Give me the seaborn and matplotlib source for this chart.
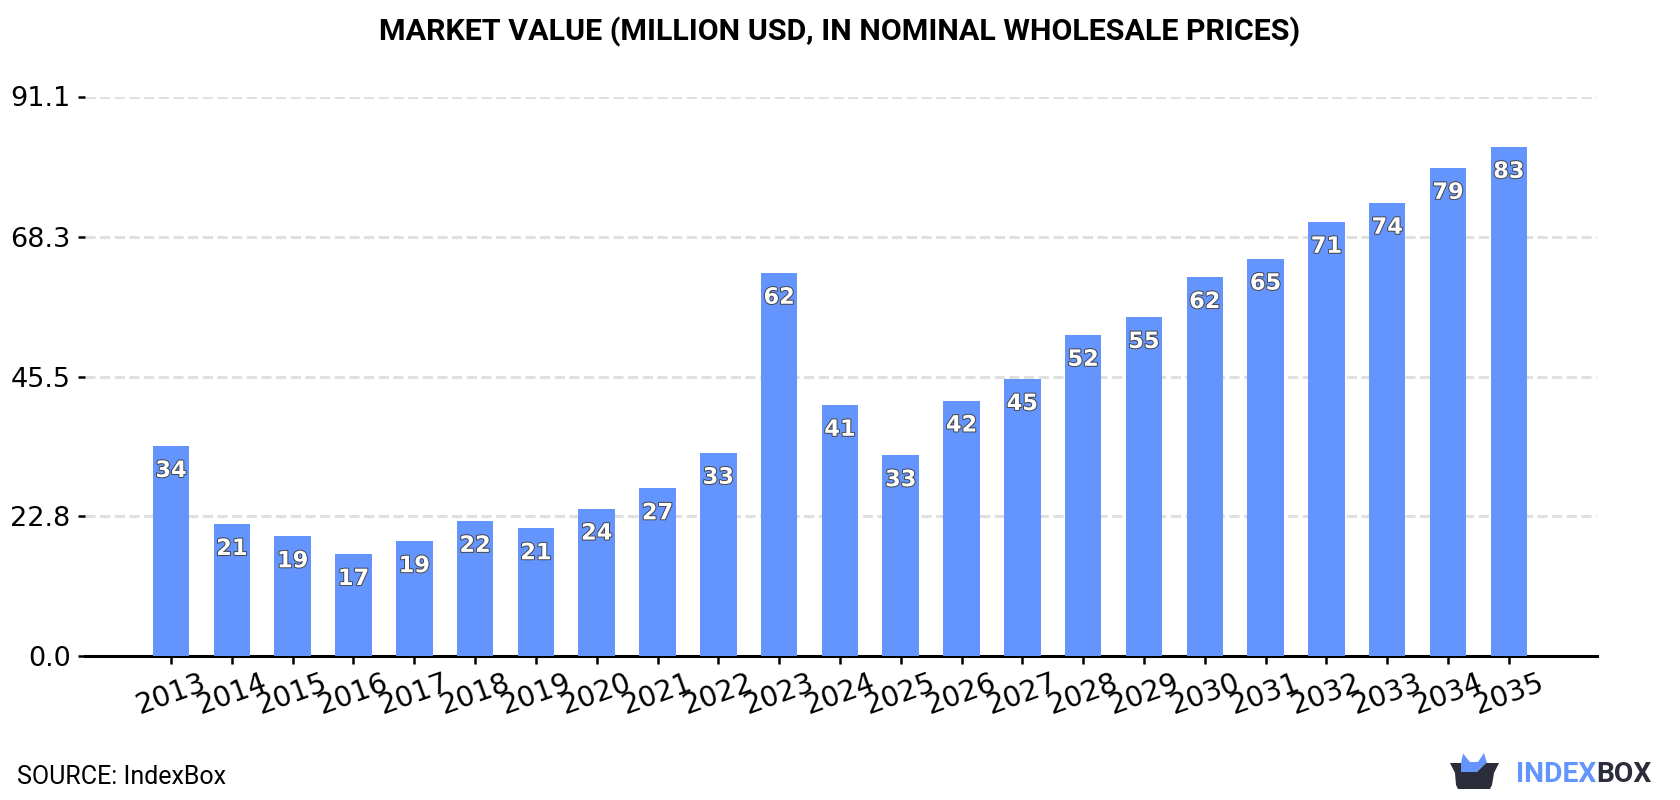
import matplotlib
matplotlib.use("Agg")
import matplotlib.pyplot as plt
import matplotlib.patheffects as pe
from matplotlib.patches import Polygon
import pandas as pd
import seaborn as sns

years = [2013, 2014, 2015, 2016, 2017, 2018, 2019, 2020, 2021, 2022, 2023, 2024,
         2025, 2026, 2027, 2028, 2029, 2030, 2031, 2032, 2033, 2034, 2035]
values = [34.2, 21.49, 19.49, 16.6, 18.7, 22.0, 20.8, 24.0, 27.3, 33.1, 62.4, 40.9,
          32.7, 41.6, 45.1, 52.3, 55.2, 61.7, 64.7, 70.7, 73.8, 79.49, 82.9]
y_ticks = [0.0, 22.8, 45.5, 68.3, 91.1]
title = "MARKET VALUE (MILLION USD, IN NOMINAL WHOLESALE PRICES)"
source = "SOURCE: IndexBox"

BLUE = "#6495ff"
DARK = "#2b2d3a"
W, H = 1680, 800

sns.set_theme(style="white")
fig = plt.figure(figsize=(W / 100, H / 100), dpi=100, facecolor="white")
ax = fig.add_axes([84.5 / W, 1 - 656 / H, (1597 - 84.5) / W, (656 - 96.5) / H])

frame = pd.DataFrame({"year": years, "value": values})
sns.barplot(data=frame, x="year", y="value", color=BLUE, saturation=1, width=0.6,
            linewidth=0, edgecolor="none", ax=ax, zorder=3)

ax.set_xlim(-1.423, 23.45)
ax.set_ylim(0, 91.1)
ax.set_yticks(y_ticks)
ax.set_yticklabels([f"{t:.1f}" for t in y_ticks])
ax.set_xlabel("")
ax.set_ylabel("")
ax.yaxis.grid(True, color="#e0e0e0", linestyle=(0, (3.3, 1.5)), linewidth=2.2, zorder=0)
ax.xaxis.grid(False)
sns.despine(ax=ax, left=True, top=True, right=True)
ax.spines["bottom"].set_linewidth(2.2)
ax.spines["bottom"].set_color("black")
# The baseline runs out under the tick of the zero label
ax.plot([-0.005, 0], [0, 0], transform=ax.get_xaxis_transform(), color="black",
        linewidth=2.2, clip_on=False, solid_capstyle="butt", zorder=6)
ax.tick_params(axis="y", left=True, length=5.4, width=1.8, color="black", pad=4.5,
               labelsize=19.5, labelcolor="black")
ax.tick_params(axis="x", bottom=True, length=5.4, width=1.8, color="black", pad=3.5,
               labelsize=20.5, labelcolor="black", labelrotation=20)
for lab in ax.get_xticklabels() + ax.get_yticklabels():
    lab.set_family("DejaVu Sans")

# Value labels sit just inside the top of each bar
for i, v in enumerate(values):
    ax.annotate(f"{v:.0f}", xy=(i, v), xytext=(0, -18), textcoords="offset points",
                ha="center", va="center", fontsize=16.2, fontweight="bold", color="white",
                family="DejaVu Sans", zorder=5,
                path_effects=[pe.withStroke(linewidth=1.4, foreground="#444444")])

fig.text(0.5 * (378 + 1302) / W, 1 - 32 / H, title, ha="center", va="center",
         fontsize=21.9, fontweight="bold", family="Roboto", color="black")
fig.text(17 / W, 1 - 776.5 / H, source, ha="left", va="center", fontsize=18,
         family="Roboto", color="black")

# Logo: open box with a blue crown, followed by the wordmark
overlay = fig.add_axes([0, 0, 1, 1], facecolor="none")
overlay.set_xlim(0, W)
overlay.set_ylim(H, 0)
overlay.axis("off")
overlay.add_patch(Polygon([(1461, 763), (1463, 753.5), (1470, 762), (1478, 762), (1484, 753),
                           (1487, 763), (1486, 763), (1477, 772), (1461, 772)],
                          color=BLUE, lw=0))
overlay.add_patch(Polygon([(1450, 763), (1461, 763), (1461, 772), (1477, 772), (1486, 763),
                           (1499, 763), (1494, 773), (1492, 785), (1490, 789), (1458, 789),
                           (1456, 785), (1455, 773)], color=DARK, lw=0))
word = overlay.text(1516, 775, "INDEX", ha="left", va="center", fontsize=20.3,
                    fontweight="bold", family="Roboto", color=BLUE)
overlay.annotate("BOX", xycoords=word, xy=(1, 0.5), xytext=(0, 0),
                 textcoords="offset points", ha="left", va="center", fontsize=20.3,
                 fontweight="bold", family="Roboto", color=DARK)

fig.savefig("out.png", dpi=100, facecolor="white")
